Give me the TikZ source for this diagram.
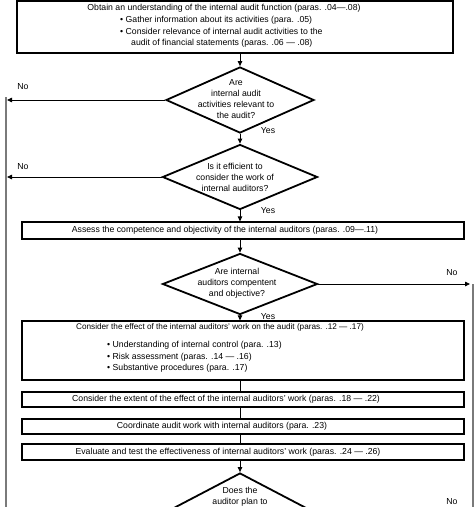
\documentclass[tikz,border=0pt]{standalone}
\usepackage{fontspec}
\setmainfont{Liberation Sans}
\usetikzlibrary{arrows.meta,shapes.geometric}
\definecolor{sidegray}{HTML}{7A7A7A}
\begin{document}
\begin{tikzpicture}[x=1pt,y=-1pt,
  box/.style={draw, line width=1.2pt, inner sep=0pt},
  dia/.style={draw, shape=diamond, line width=1.8pt, inner sep=0pt},
  flow/.style={line width=0.8pt},
  arr/.style={flow, -{Triangle[length=5pt,width=4.5pt]}},
  side/.style={draw=sidegray, line width=2pt},
  txt/.style={font=\fontsize{8.7}{11}\selectfont, inner sep=0pt, align=center},
  ltxt/.style={font=\fontsize{8.7}{11.7}\selectfont, inner sep=0pt, align=left, anchor=north west}]
\useasboundingbox (0,0) rectangle (474,507);
\clip (0,0) rectangle (474,507);

% boxes
\node[box, minimum width=436pt, minimum height=52pt] (top) at (235,27) {};
\node[txt] (topt) at (224,8) {Obtain an understanding of the internal audit function (paras. .04—.08)};
\node[ltxt] (topl) at (120,16) {• Gather information about its activities (para. .05)\\
• Consider relevance of internal audit activities to the\\
\hspace*{11pt}audit of financial statements (paras. .06 — .08)};

\node[dia, minimum width=148pt, minimum height=66pt] (d1) at (240,100) {};
\node[txt] (d1t) at (236,99) {Are\\internal audit\\activities relevant to\\the audit?};

\node[dia, minimum width=155pt, minimum height=65pt] (d2) at (240,177) {};
\node[txt] (d2t) at (235,177) {Is it efficient to\\consider the work of\\internal auditors?};

\node[box, minimum width=442pt, minimum height=17pt] (assess) at (243,230.5) {};
\node[txt] (assesst) at (225,230) {Assess the competence and objectivity of the internal auditors (paras. .09—.11)};

\node[dia, minimum width=155pt, minimum height=61pt] (d3) at (240,284) {};
\node[txt] (d3t) at (237,283.5) {Are internal\\auditors compentent\\and objective?};

\node[box, minimum width=442pt, minimum height=59pt] (effect) at (243,350.5) {};
\node[txt] (effectt) at (220,327.5) {\fontsize{8.2}{11}\selectfont Consider the effect of the internal auditors' work on the audit (paras. .12 — .17)};
\node[ltxt] (effectl) at (107,341) {• Understanding of internal control (para. .13)\\
• Risk assessment (paras. .14 — .16)\\
• Substantive procedures (para. .17)};

\node[box, minimum width=442pt, minimum height=15pt] (extent) at (243,399.5) {};
\node[txt] (extentt) at (226,399.5) {Consider the extent of the effect of the internal auditors' work (paras. .18 — .22)};

\node[box, minimum width=442pt, minimum height=15pt] (coord) at (243,426.5) {};
\node[txt] (coordt) at (222,426.5) {Coordinate audit work with internal auditors (para. .23)};

\node[box, minimum width=442pt, minimum height=16pt] (eval) at (243,452) {};
\node[txt] (evalt) at (228,452) {Evaluate and test the effectiveness of internal auditors' work (paras. .24 — .26)};

\node[dia, minimum width=156pt, minimum height=82pt] (d4) at (240,514) {};
\node[txt, anchor=north] (d4t) at (240,487) {Does the\\auditor plan to};

% side lines
\coordinate (lt) at (6,97);
\coordinate (lb) at (6,507);
\coordinate (rt) at (473,284);
\coordinate (rb) at (473,507);
\draw[side] (lt) -- (lb);
\draw[side] (rt) -- (rb);

% connectors
\draw[arr] (top.south -| d1.north) -- (d1.north);
\draw[arr] (d1.south) -- (d2.north);
\draw[arr] (d2.south) -- (assess.north -| d2.south);
\draw[arr] (assess.south -| d3.north) -- (d3.north);
\draw[arr] (d3.south) -- (effect.north -| d3.south);
\draw[flow] (effect.south -| d3.south) -- (extent.north -| d3.south);
\draw[flow] (extent.south -| d3.south) -- (coord.north -| d3.south);
\draw[flow] (coord.south -| d3.south) -- (eval.north -| d3.south);
\draw[arr] (eval.south -| d4.north) -- (d4.north);

\coordinate (l1) at (7,0);
\draw[arr] (d1.west) -- (d1.west -| l1);
\draw[arr] (d2.west) -- (d2.west -| l1);
\coordinate (r1) at (470,0);
\draw[arr] (d3.east) -- (d3.east -| r1);

% labels
\node[txt] (no1) at (23,87) {No};
\node[txt] (no2) at (23,167) {No};
\node[txt] (no3) at (452,273) {No};
\node[txt] (no4) at (452,502) {No};
\node[txt] (yes1) at (268,131) {Yes};
\node[txt] (yes2) at (268,211) {Yes};
\node[txt] (yes3) at (268,316.5) {Yes};
\end{tikzpicture}
\end{document}
